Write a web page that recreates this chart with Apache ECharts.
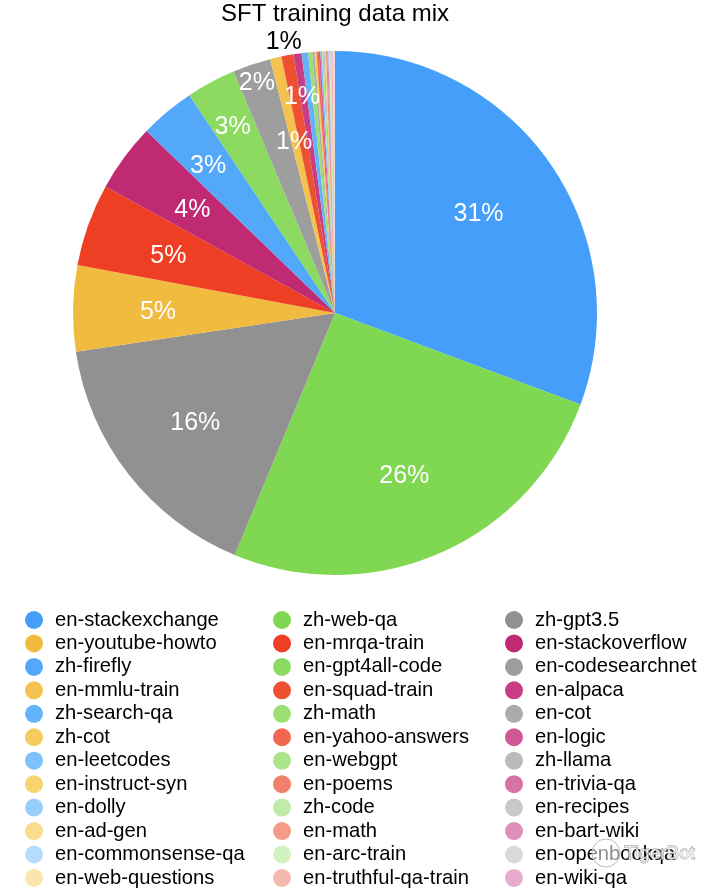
<!DOCTYPE html>
<html lang="en">
<head>
    <meta charset="UTF-8">
    <title>SFT training data mix</title>
    <script src="https://cdn.jsdelivr.net/npm/echarts@6/dist/echarts.min.js"></script>
    <style>
        html, body { margin: 0; padding: 0; background: #fff; }
    </style>
</head>
<body>
 <div id="myChart" style="width: 720px;height: 888px;"></div>
 <script>
     // slices run clockwise from 12 o'clock, same order the legend reads across its rows
     var names = [
         'en-stackexchange', 'zh-web-qa', 'zh-gpt3.5',
         'en-youtube-howto', 'en-mrqa-train', 'en-stackoverflow',
         'zh-firefly', 'en-gpt4all-code', 'en-codesearchnet',
         'en-mmlu-train', 'en-squad-train', 'en-alpaca',
         'zh-search-qa', 'zh-math', 'en-cot',
         'zh-cot', 'en-yahoo-answers', 'en-logic',
         'en-leetcodes', 'en-webgpt', 'zh-llama',
         'en-instruct-syn', 'en-poems', 'en-trivia-qa',
         'en-dolly', 'zh-code', 'en-recipes',
         'en-ad-gen', 'en-math', 'en-bart-wiki',
         'en-commonsense-qa', 'en-arc-train', 'en-openbookqa',
         'en-web-questions', 'en-truthful-qa-train', 'en-wiki-qa'
     ];
     var values = [
         30.7, 25.6, 16.4,
         5.3, 5.1, 4.2,
         3.4, 3.05, 2.35,
         0.7, 0.75, 0.5,
         0.4, 0.25, 0.14,
         0.13, 0.12, 0.11,
         0.1, 0.09, 0.08,
         0.08, 0.07, 0.06,
         0.06, 0.05, 0.05,
         0.04, 0.04, 0.03,
         0.03, 0.03, 0.02,
         0.02, 0.02, 0.02
     ];
     var colors = [
         '#459EFA', '#80D752', '#919191',
         '#F1BB3F', '#EE3E24', '#C02A72',
         '#53A8FA', '#8CDB60', '#9E9E9E',
         '#F3C24F', '#EE5132', '#C83D84',
         '#63B3FB', '#9ADF72', '#ABABAB',
         '#F5CB5E', '#EF674E', '#CF5795',
         '#7CC0FC', '#ABE48A', '#BABABA',
         '#F7D470', '#F08069', '#D772A8',
         '#98CEFB', '#BEEBA6', '#C9C9C9',
         '#F9DD8D', '#F39B88', '#DF8DBB',
         '#B6DCFD', '#D2F1BF', '#DADADA',
         '#FAE6AC', '#F5B8AC', '#E7ABCE'
     ];
     var labelled = 12; // only the first slices carry a percent label

     // labels of the thin slices were pushed outward in the original
     var labelNudge = {
         'zh-firefly': [-14, -12],
         'en-gpt4all-code': [-19, -31],
         'en-codesearchnet': [-22, -63],
         'en-mmlu-train': [-1, 1],
         'en-squad-train': [-1, -43],
         'en-alpaca': [-26, -97]
     };

     var mainData = names.map(function (n, i) {
         return { name: n, value: values[i], itemStyle: { color: colors[i] } };
     });

     // invisible ring, only there to put the labels further out than the default 'inside' spot
     var labelData = names.map(function (n, i) {
         var d = { name: n, value: values[i] };
         if (labelNudge[n]) d.label = { offset: labelNudge[n] };
         if (n === 'en-alpaca') d.label.color = '#000';
         return d;
     });

     function columnLegend(col, left) {
         return {
             orient: 'vertical',
             left: left,
             top: 610,
             padding: 0,
             itemWidth: 18,
             itemHeight: 19,
             itemGap: 3.45,
             icon: 'circle',
             selectedMode: false,
             textStyle: {
                 fontFamily: 'Liberation Sans',
                 fontSize: 20.2,
                 lineHeight: 20,
                 color: '#000',
                 padding: [0, 0, 0, 7]
             },
             data: names.filter(function (n, i) { return i % 3 === col; })
         };
     }

     var option = {
         backgroundColor: '#fff',
         animation: false,
         title: {
             text: 'SFT training data mix',
             left: 330,
             top: -3,
             textAlign: 'center',
             textStyle: { fontFamily: 'Liberation Sans', fontSize: 24, fontWeight: 'normal', color: '#000' }
         },
         legend: [columnLegend(0, 25), columnLegend(1, 273), columnLegend(2, 505)],
         series: [
             {
                 type: 'pie',
                 center: [335, 313],
                 radius: [0, 262],
                 startAngle: 90,
                 silent: true,
                 label: { show: false },
                 labelLine: { show: false },
                 data: mainData
             },
             {
                 type: 'pie',
                 center: [335, 313],
                 radius: [131, 215],
                 startAngle: 90,
                 silent: true,
                 avoidLabelOverlap: false,
                 labelLayout: { hideOverlap: false },
                 itemStyle: { color: 'transparent' },
                 labelLine: { show: false },
                 label: {
                     position: 'inside',
                     offset: [-1, 2],
                     fontFamily: 'Liberation Sans',
                     fontSize: 25,
                     color: '#fff',
                     formatter: function (p) {
                         return p.dataIndex < labelled ? Math.round(p.percent) + '%' : '';
                     }
                 },
                 data: labelData
             }
         ],
         // watermark sitting over the bottom right of the legend
         graphic: [
             {
                 type: 'circle',
                 shape: { cx: 606, cy: 853, r: 14 },
                 style: { fill: 'rgba(255,255,255,0.55)', stroke: '#bbb', lineWidth: 1 },
                 z: 100
             },
             {
                 type: 'text',
                 x: 624,
                 y: 844,
                 style: {
                     text: 'TigerBot',
                     fontFamily: 'Liberation Sans',
                     fontSize: 19,
                     fill: 'rgba(255,255,255,0.75)',
                     stroke: '#8a8a8a',
                     lineWidth: 0.8
                 },
                 z: 100
             }
         ]
     };

     var myChart = echarts.init(document.getElementById('myChart'));
     myChart.setOption(option);
 </script>
</body>
</html>
